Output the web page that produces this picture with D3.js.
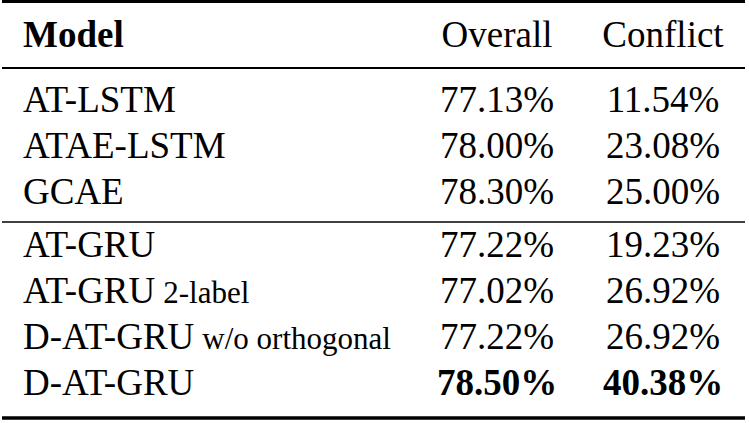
<!DOCTYPE html>
<html><head><meta charset="utf-8">
<script src="https://cdn.jsdelivr.net/npm/d3@7"></script>
<style>html,body{margin:0;padding:0;background:#fff;}svg{display:block;}</style>
</head><body>
<svg id="c" width="749" height="423"></svg>
<script>
const headers = ["Model", "Overall", "Conflict"];
const models = ["AT-LSTM", "ATAE-LSTM", "GCAE", "AT-GRU", "AT-GRU", "D-AT-GRU", "D-AT-GRU"];
const suffixes = ["", "", "", "", "2-label", "w/o orthogonal", ""];
const overall = ["77.13%", "78.00%", "78.30%", "77.22%", "77.02%", "77.22%", "78.50%"];
const conflict = ["11.54%", "23.08%", "25.00%", "19.23%", "26.92%", "26.92%", "40.38%"];
const groups = [0, 0, 0, 1, 1, 1, 1];
const best = [false, false, false, false, false, false, true];

const svg = d3.select("#c");
const font = "'Liberation Serif', 'Times New Roman', serif";
const fs = 37;
const fsSmall = 31;

const x = d3.scaleOrdinal().domain(headers).range([23, 497, 663]);
const rowY = d3.scaleLinear().domain([0, 6]).range([112, 388]);
const groupOff = d3.scaleOrdinal().domain([0, 1]).range([0, 7]);
const yOf = i => rowY(i) + groupOff(groups[i]);

// rules
const rules = [
  {y: 1.5, w: 3},
  {y: 68, w: 2},
  {y: 222, w: 1.3},
  {y: 418, w: 3.5}
];
svg.selectAll("line.rule").data(rules).join("line")
  .attr("class", "rule")
  .attr("x1", 2).attr("x2", 745)
  .attr("y1", d => d.y).attr("y2", d => d.y)
  .attr("stroke", "#000").attr("stroke-width", d => d.w);

// header
svg.selectAll("text.h").data(headers).join("text")
  .attr("class", "h")
  .attr("x", d => x(d)).attr("y", 47)
  .attr("text-anchor", (d, i) => i === 0 ? "start" : "middle")
  .attr("font-family", font).attr("font-size", fs)
  .attr("font-weight", (d, i) => i === 0 ? "bold" : "normal")
  .text(d => d);

const idx = d3.range(models.length);
// model column
const mt = svg.selectAll("text.m").data(idx).join("text")
  .attr("class", "m")
  .attr("x", x("Model")).attr("y", i => yOf(i))
  .attr("font-family", font).attr("font-size", fs);
mt.append("tspan").text(i => models[i]);
mt.append("tspan").attr("font-size", fsSmall).attr("dx", 8).text(i => suffixes[i]);

svg.selectAll("text.o").data(idx).join("text")
  .attr("class", "o")
  .attr("x", x("Overall")).attr("y", i => yOf(i))
  .attr("text-anchor", "middle")
  .attr("font-family", font).attr("font-size", fs)
  .attr("font-weight", i => best[i] ? "bold" : "normal")
  .text(i => overall[i]);

svg.selectAll("text.cf").data(idx).join("text")
  .attr("class", "cf")
  .attr("x", x("Conflict")).attr("y", i => yOf(i))
  .attr("text-anchor", "middle")
  .attr("font-family", font).attr("font-size", fs)
  .attr("font-weight", i => best[i] ? "bold" : "normal")
  .text(i => conflict[i]);
</script>
</body></html>
